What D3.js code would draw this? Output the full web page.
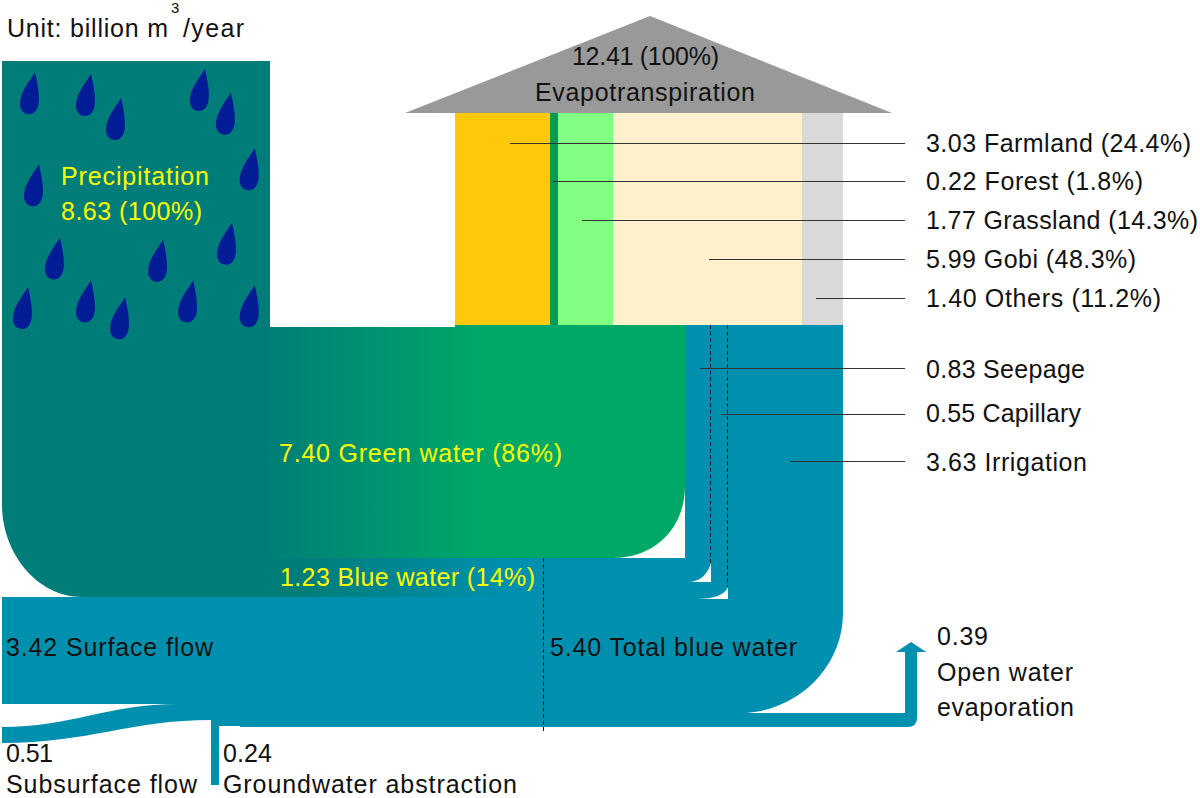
<!DOCTYPE html>
<html><head><meta charset="utf-8">
<script src="https://cdn.jsdelivr.net/npm/d3@7"></script>
<style>html,body{margin:0;padding:0;background:#fff}svg{display:block}
text{font-family:"Liberation Sans",sans-serif;font-size:25px}</style></head>
<body><div id="chart"></div>
<script>
// ---------- data (billion m3/year) ----------
const etUses = ["Farmland","Forest","Grassland","Gobi","Others"];
const etValues = [3.03,0.22,1.77,5.99,1.40];
const etShares = ["24.4%","1.8%","14.3%","48.3%","11.2%"];
const etColors = ["#ffc90a","#0a9a50","#82ff82","#fff1cc","#d9d9d9"];
const etTotal = 12.41;
const precipitation = 8.63;
const greenWater = 7.40;
const blueWater = 1.23;
const surfaceFlow = 3.42;
const subsurfaceFlow = 0.51;
const groundwater = 0.24;
const openWater = 0.39;
const blueUses = ["Seepage","Capillary","Irrigation"];
const blueValues = [0.83,0.55,3.63];
const totalBlue = 5.40;
// relative positions of rain drops inside the precipitation column (0-1)
const dropU = [.123,.332,.444,.757,.854,.943,.138,.216,.601,.858,.097,.332,.459,.713,.943];
const dropV = [.042,.049,.139,.030,.119,.328,.388,.664,.672,.608,.850,.825,.888,.825,.843];

// ---------- scales ----------
const W=1200,H=798;
const q = d3.scaleLinear().domain([0,etTotal]).range([0,388]); // flow width
const rq = d => Math.round(q(d));
const svg = d3.select("#chart").append("svg").attr("width",W).attr("height",H);
const defs = svg.append("defs");
const teal="#007d78", green="#00a868", blue="#0090af";

const x0=455, yEt=325, yRoofTop=16, yRoofBase=113, xP=2, yP=61, yPBottom=327;
const grad = defs.append("linearGradient").attr("id","gw").attr("gradientUnits","userSpaceOnUse")
  .attr("x1",265).attr("x2",480).attr("y1",0).attr("y2",0);
grad.append("stop").attr("offset",0).attr("stop-color",teal);
grad.append("stop").attr("offset",1).attr("stop-color",green);
const gradB = defs.append("linearGradient").attr("id","bw").attr("gradientUnits","userSpaceOnUse")
  .attr("x1",300).attr("x2",510).attr("y1",0).attr("y2",0);
gradB.append("stop").attr("offset",0).attr("stop-color",teal);
gradB.append("stop").attr("offset",1).attr("stop-color",blue);

// ET columns: cumulative value to x position
const etCum = d3.cumsum(etValues);
const ex = d3.scaleLinear().domain([0,...etCum]).range([455,550,558,613,802,843]);
const etX0 = etValues.map((d,i)=> ex(i?etCum[i-1]:0));
svg.selectAll(".et").data(etValues).join("rect").attr("class","et")
  .attr("x",(d,i)=>etX0[i]).attr("width",(d,i)=>ex(etCum[i])-etX0[i]).attr("y",yRoofBase).attr("height",yEt-yRoofBase)
  .attr("fill",(d,i)=>etColors[i]);
// roof
const xEtEnd = ex(etCum[4]);
svg.append("path").attr("fill","#999999")
  .attr("d",`M${x0-50},${yRoofBase}L${(x0+xEtEnd)/2+1},${yRoofTop}L${xEtEnd+49},${yRoofBase}Z`);

// precipitation + green water + blue water
const xPr = xP+rq(precipitation)-2;
const yGreenBottom = yEt+rq(greenWater)+2;
const xGr = x0+rq(greenWater)-1;
const yBlueB = yGreenBottom+rq(blueWater)+1;
svg.append("path").attr("fill",teal)
  .attr("d",`M${xP},${yP}H${xPr}V${yBlueB}H${xP+80}C${xP+34},${yBlueB} ${xP},${yBlueB-45} ${xP},${yBlueB-92}Z`);
svg.append("path").attr("fill","url(#gw)")
  .attr("d",`M${xPr-1},${yPBottom}H${x0}V${yEt}H${xGr}V${yGreenBottom-72}C${xGr},${yGreenBottom-30} ${xGr-30},${yGreenBottom} ${xGr-72},${yGreenBottom}H${xPr-1}Z`);

// total blue water stream
const xSeep = xGr;
const seepEnd = xSeep+rq(blueValues[0]);
const capEnd = seepEnd+rq(blueValues[1]);
const irrEnd = xEtEnd;
const yTotalB = yGreenBottom+rq(totalBlue);
const ySeepB = yGreenBottom+rq(blueValues[0])-2;
const yCapB = ySeepB+rq(blueValues[1]);
const yIrrB = yCapB+rq(blueValues[2])+1;
svg.append("path").attr("fill",blue)
  .attr("d",`M${xSeep},${yEt}H${irrEnd}V${yCapB+14}C${irrEnd},${yCapB+70} ${irrEnd-48},${yIrrB} ${irrEnd-103},${yIrrB}H905V${yTotalB}H${xP+238}V${yTotalB-1}H${xP+210}V${yBlueB}H545V${yGreenBottom}H${xSeep}Z`);
// white notches at the two inner corners
svg.append("path").attr("fill","#fff")
  .attr("d",`M${seepEnd},${ySeepB-19}V${ySeepB}H${seepEnd-23}C${seepEnd-11},${ySeepB} ${seepEnd-3},${ySeepB-8} ${seepEnd},${ySeepB-19}Z`);
svg.append("path").attr("fill","#fff")
  .attr("d",`M${capEnd},${yCapB-12}V${yCapB}H${capEnd-32}C${capEnd-14},${yCapB} ${capEnd-3},${yCapB-4} ${capEnd},${yCapB-12}Z`);

// blue water band
svg.append("rect").attr("x",xPr-1).attr("y",yGreenBottom).attr("width",547-xPr).attr("height",yBlueB-yGreenBottom).attr("fill","url(#bw)");

// surface flow
const ySurf = yBlueB;
const ySurfB = ySurf+rq(surfaceFlow);
svg.append("rect").attr("x",xP).attr("y",ySurf).attr("width",560).attr("height",ySurfB-ySurf).attr("fill",blue);
// subsurface flow
const ySubL = yTotalB;
const subW = q(subsurfaceFlow);
svg.append("path").attr("fill",blue)
  .attr("d",`M${xP},${ySubL}C70,${ySubL} 110,${ySurfB} 178,${ySurfB}H230V${ySurfB+16}H${xP+210}C130,${ySurfB+16} 90,${ySubL+subW} ${xP},${ySubL+subW}Z`);
// groundwater
const xG=211;
svg.append("path").attr("fill",blue)
  .attr("d",`M${xG},${ySurfB+10}V785H${xG+rq(groundwater)}V${yTotalB-1}H${xG+30}V${ySurfB}H${xG}Z`);
// open water arrow
const owW=q(openWater), xOw=905;
const yOwB=yTotalB;
svg.append("path").attr("fill",blue)
  .attr("d",`M880,${yOwB-owW}H${xOw}V652H${xOw-9}L${xOw+owW/2},642L${xOw+owW+9},652H${xOw+owW}V${yOwB-10}Q${xOw+owW},${yOwB} ${xOw+owW-10},${yOwB}H880Z`);

// dashed dividers
const dash=(x,y1,y2)=>svg.append("line").attr("x1",x).attr("x2",x).attr("y1",y1).attr("y2",y2)
  .attr("stroke","#0a1a20").attr("stroke-width",1).attr("stroke-dasharray","4 2.5");
dash(seepEnd-.5,yEt,ySeepB-19);
dash(capEnd-.5,yEt,yCapB-12);
dash(543.5,yGreenBottom,731);

// drops
const dx=d3.scaleLinear().domain([0,1]).range([xP,xPr]);
const dy=d3.scaleLinear().domain([0,1]).range([yP,yPBottom]);
svg.selectAll(".drop").data(dropU).join("path").attr("class","drop").attr("fill","#021c96")
  .attr("transform",(d,i)=>`translate(${dx(d)},${dy(dropV[i])})`)
  .attr("d","M0,0C-6,10 -15,20 -15,32C-15,38 -11,42 -6,42C1,42 4,35 4,27C4,18 2,8 0,0Z");

// leader lines + labels
const fmt=d3.format(".2f");
const leaderX=[510,553,582,709,816];
const leaderY=[143,181,220,259,298];
const etLabelW=[265,217,272,210,235];
const labelEnd=905, labelX=926;
const line=(x,y)=>svg.append("line").attr("x1",x).attr("x2",labelEnd).attr("y1",y).attr("y2",y).attr("stroke","#333").attr("stroke-width",1);
const text=(t,x,y,w,c="#111",a="start")=>svg.append("text").attr("x",x).attr("y",y).attr("fill",c).attr("text-anchor",a)
  .attr("textLength",w).attr("lengthAdjust","spacing").text(t);
etUses.forEach((u,i)=>{line(leaderX[i],leaderY[i]+.5);
  text(`${fmt(etValues[i])} ${u} (${etShares[i]})`,labelX,leaderY[i]+9,etLabelW[i]);});
const bX=[700,721,790], bY=[368,414,461], bW=[159,155,161];
blueUses.forEach((u,i)=>{line(bX[i],bY[i]+.5);text(`${fmt(blueValues[i])} ${u}`,labelX,[378,422,471][i],bW[i]);});

text(`${fmt(etTotal)} (100%)`,572,65,147);
text("Evapotranspiration",535,101,220);
text("Unit: billion m",7,37,161);
text("3",171,13,8).style("font-size","15px");
text("/year",183,37,61);
text("Precipitation",61,185,148,"#ffff00");
text(`${fmt(precipitation)} (100%)`,61,220,141,"#ffff00");
text(`${fmt(greenWater)} Green water (86%)`,279,462,283,"#ffff00");
text(`${fmt(blueWater)} Blue water (14%)`,280,586,255,"#ffff00");
text(`${fmt(surfaceFlow)} Surface flow`,6,656,207);
text(`${fmt(totalBlue)} Total blue water`,550,656,247);
text(fmt(openWater),937,645,51);
text("Open water",937,681,136);
text("evaporation",937,716,137);
text(fmt(subsurfaceFlow),6,762,47);
text("Subsurface flow",6,793,191);
text(fmt(groundwater),223,762,49);
text("Groundwater abstraction",223,793,294);
</script></body></html>
